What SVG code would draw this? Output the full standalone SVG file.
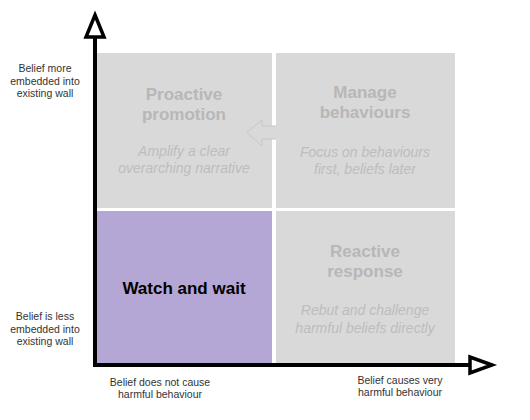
<svg xmlns="http://www.w3.org/2000/svg" width="530" height="420" viewBox="0 0 530 420">
<style>
.q{fill:#d9d9d9}
.t{font-family:"Liberation Sans",Arial,sans-serif;font-size:17px;font-weight:bold;fill:#b7b7b7;text-anchor:middle}
.s{font-family:"Liberation Sans",Arial,sans-serif;font-size:14px;font-style:italic;fill:#bdbdbd;text-anchor:middle}
.a{font-family:"Liberation Sans",Arial,sans-serif;font-size:10.5px;fill:#333;text-anchor:middle}
.ax{stroke:#000;stroke-width:4;fill:none}
.ah{fill:#fff;stroke:#000;stroke-width:3.5;stroke-linejoin:miter}
</style>
<rect width="530" height="420" fill="#fff"/>
<g id="proactive">
<rect class="q" x="97" y="53" width="175" height="155"/>
<text class="t" x="184" y="100">Proactive</text>
<text class="t" x="184" y="120">promotion</text>
<text class="s" x="184" y="156">Amplify a clear</text>
<text class="s" x="184" y="173">overarching narrative</text>
</g>
<g id="manage">
<rect class="q" x="276" y="53" width="179" height="155"/>
<text class="t" x="365" y="98">Manage</text>
<text class="t" x="365" y="118">behaviours</text>
<text class="s" x="365" y="157">Focus on behaviours</text>
<text class="s" x="365" y="174">first, beliefs later</text>
</g>
<g id="watch">
<rect x="97" y="211" width="175" height="152" fill="#b4a7d6"/>
<text class="t" x="184" y="294" style="fill:#000">Watch and wait</text>
</g>
<g id="reactive">
<rect class="q" x="276" y="211" width="179" height="152"/>
<text class="t" x="365" y="257">Reactive</text>
<text class="t" x="365" y="277">response</text>
<text class="s" x="365" y="315">Rebut and challenge</text>
<text class="s" x="365" y="333">harmful beliefs directly</text>
</g>
<g id="connectors">
<polygon points="247,132 262,120 262,126 277,126 277,139 262,139 262,146" fill="#d9d9d9"/>
<path d="M276,126 H262 V120 L247,132.5 L262,146 V139 H276" fill="none" stroke="#c6c6c6" stroke-width="1"/>
<path class="ax" d="M95,38 V365 H470"/>
<polygon class="ah" points="95,15 104,37 86,37"/>
<polygon class="ah" points="492,365 470,357 470,373"/>
</g>
<g id="labels">
<text class="a" x="45" y="72">Belief more</text>
<text class="a" x="45" y="84.5">embedded into</text>
<text class="a" x="45" y="97">existing wall</text>
<text class="a" x="45" y="320">Belief is less</text>
<text class="a" x="45" y="332.5">embedded into</text>
<text class="a" x="45" y="345">existing wall</text>
<text class="a" x="160" y="386">Belief does not cause</text>
<text class="a" x="160" y="398">harmful behaviour</text>
<text class="a" x="400" y="384">Belief causes very</text>
<text class="a" x="400" y="396">harmful behaviour</text>
</g>
</svg>
